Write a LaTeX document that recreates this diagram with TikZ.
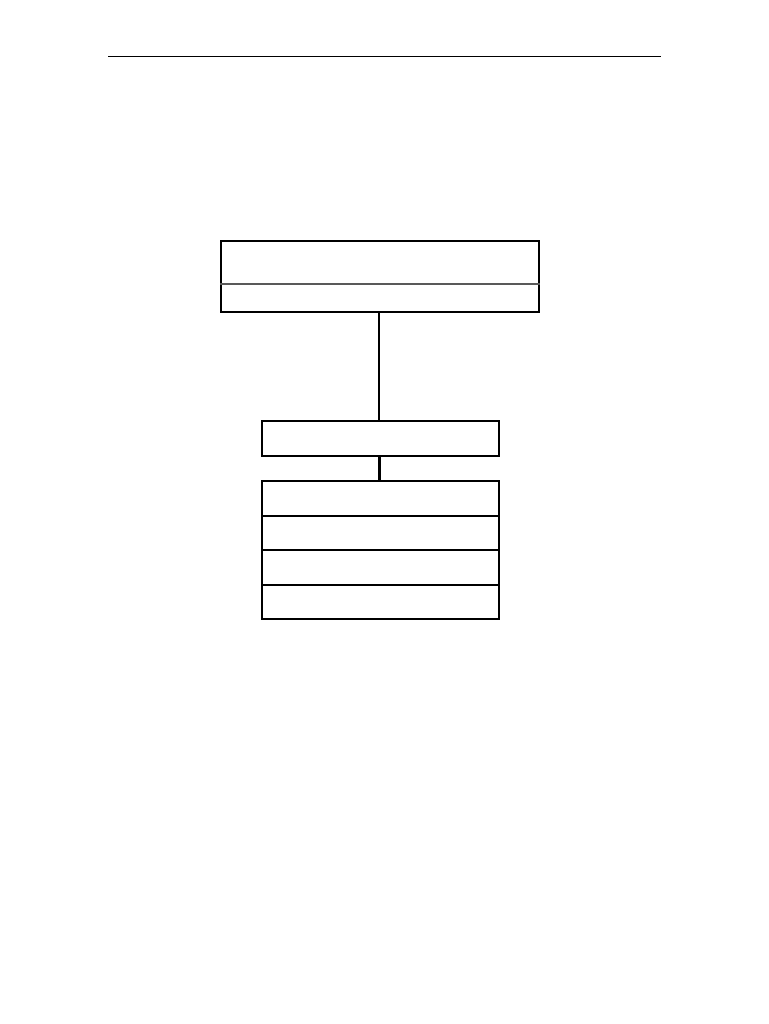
\documentclass[tikz,border=0pt]{standalone}
\begin{document}
\begin{tikzpicture}[x=1pt, y=-1pt]
\tikzset{box/.style={draw, line width=2pt, inner sep=0pt, minimum width=#1},
  divider/.style={line width=1.2pt}}
\useasboundingbox (0,0) rectangle (768,1024);

% page rule
\coordinate (rl) at (108,57); \coordinate (rr) at (661,57);
\draw [line width=1pt] (rl) -- (rr);

\begin{scope}
  \node [box=318pt, minimum height=71pt] (cls) at (380,276.5) {};
  \node [box=237pt, minimum height=35pt] (mid) at (380.5,438.5) {};
  \node [box=237pt, minimum height=138pt] (low) at (380.5,550) {};
\end{scope}

% compartments
\draw [divider, black!65] (cls.west |- 0,284) -- (cls.east |- 0,284);
\draw [divider, line width=1.6pt] (low.west |- 0,516) -- (low.east |- 0,516);
\draw [divider] (low.west |- 0,550) -- (low.east |- 0,550);
\draw [divider, line width=1.6pt] (low.west |- 0,585) -- (low.east |- 0,585);

\begin{scope}[line cap=butt]
  \draw [line width=2pt] (cls.south -| 379,0) -- (mid.north -| 379,0);
  \draw [line width=3pt] (mid.south -| 379.5,0) -- (low.north -| 379.5,0);
\end{scope}
\end{tikzpicture}
\end{document}
